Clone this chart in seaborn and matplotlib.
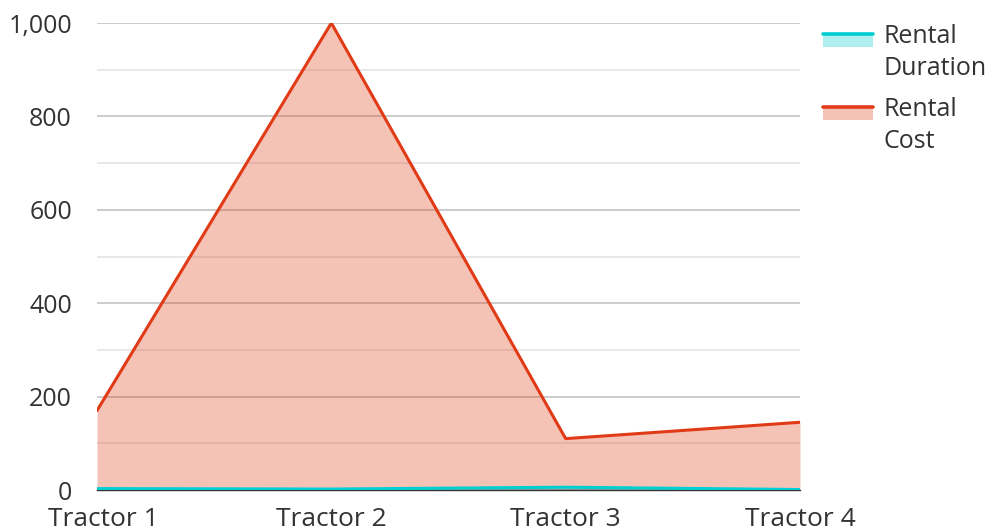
import matplotlib
matplotlib.use("Agg")
import matplotlib.pyplot as plt
import matplotlib.transforms as mtransforms
import seaborn as sns
import pandas as pd
from matplotlib.patches import Rectangle
from matplotlib.lines import Line2D
from matplotlib.legend_handler import HandlerBase
from matplotlib.ticker import FuncFormatter, MultipleLocator

categories = ["Tractor 1", "Tractor 2", "Tractor 3", "Tractor 4"]
rental_duration = [3, 2, 6, 1]
rental_cost = [170, 1000, 110, 145]
series_names = ["Rental\nDuration", "Rental\nCost"]

sns.set_theme(style="white")
plt.rcParams['font.family'] = ['Open Sans', 'DejaVu Sans']

colors = ["#00CED1", "#E03A16"]
fill_alpha = 0.31

fig = plt.figure(figsize=(9.89, 5.31), dpi=100)
ax = fig.add_axes([97/989, 1-490/531, (800-97)/989, (490-23)/531])

x = list(range(len(categories)))
df = pd.DataFrame({"x": x * 2,
                   "value": rental_duration + rental_cost,
                   "series": [series_names[0]] * 4 + [series_names[1]] * 4})

# fills (semi-transparent over the grid)
ax.fill_between(x, 0, rental_cost, color=colors[1], alpha=fill_alpha, lw=0, zorder=2)
ax.fill_between(x, 0, rental_duration, color=colors[0], alpha=fill_alpha, lw=0, zorder=2)

sns.lineplot(data=df, x="x", y="value", hue="series", palette=colors,
             linewidth=2.2, ax=ax, legend=False, zorder=3)

ax.set_xlim(0, 3)
ax.set_ylim(0, 1000)
ax.yaxis.set_major_locator(MultipleLocator(200))
ax.yaxis.set_minor_locator(MultipleLocator(100))
ax.yaxis.set_major_formatter(FuncFormatter(lambda v, p: f"{int(v):,}"))
ax.set_xticks(x)
ax.set_xticklabels(categories)
ax.grid(which="major", axis="y", color="#C4C4C4", lw=1.2, zorder=1)
ax.grid(which="minor", axis="y", color="#E4E4E4", lw=1.2, zorder=1)
ax.set_axisbelow(True)
for s in ["top", "right", "left"]:
    ax.spines[s].set_visible(False)
ax.spines["bottom"].set_color("#333333")
ax.spines["bottom"].set_linewidth(1.0)
ax.spines["bottom"].set_zorder(2.5)
ax.tick_params(axis="y", which="both", length=0, pad=18, labelsize=18, labelcolor="#333333")
ax.tick_params(axis="x", length=0, pad=12, labelsize=19, labelcolor="#333333")
ax.set_xlabel("")
ax.set_ylabel("")
# first category label is nudged inward so it stays inside the figure
first = ax.get_xticklabels()[0]
first.set_transform(first.get_transform() +
                    mtransforms.ScaledTranslation(6/100, 0, fig.dpi_scale_trans))


class FillLineHandler(HandlerBase):
    def __init__(self, line_color, alpha):
        super().__init__()
        self.lc = line_color
        self.alpha = alpha

    def create_artists(self, legend, orig_handle, xdescent, ydescent, width, height, fontsize, trans):
        ytop = 20.0
        ph = 9.0
        rect = Rectangle((-xdescent, ytop - ph), width, ph,
                         facecolor=self.lc, alpha=self.alpha, edgecolor="none", transform=trans)
        ln = Line2D([-xdescent, -xdescent + width], [ytop, ytop],
                    color=self.lc, lw=2.6, transform=trans)
        return [rect, ln]


h1 = Rectangle((0, 0), 1, 1)
h2 = Rectangle((0, 0), 1, 1)
leg = fig.legend([h1, h2], series_names,
                 handler_map={h1: FillLineHandler(colors[0], fill_alpha),
                              h2: FillLineHandler(colors[1], fill_alpha)},
                 loc="upper left", bbox_to_anchor=(813/989, 1 - 14/531),
                 frameon=False, fontsize=18, handlelength=2.0, handleheight=0.8,
                 labelspacing=0.63, handletextpad=0.42, labelcolor="#333333",
                 borderaxespad=0)
for t in leg.get_texts():
    t.set_linespacing(1.37)

fig.savefig("out.png", dpi=100)
